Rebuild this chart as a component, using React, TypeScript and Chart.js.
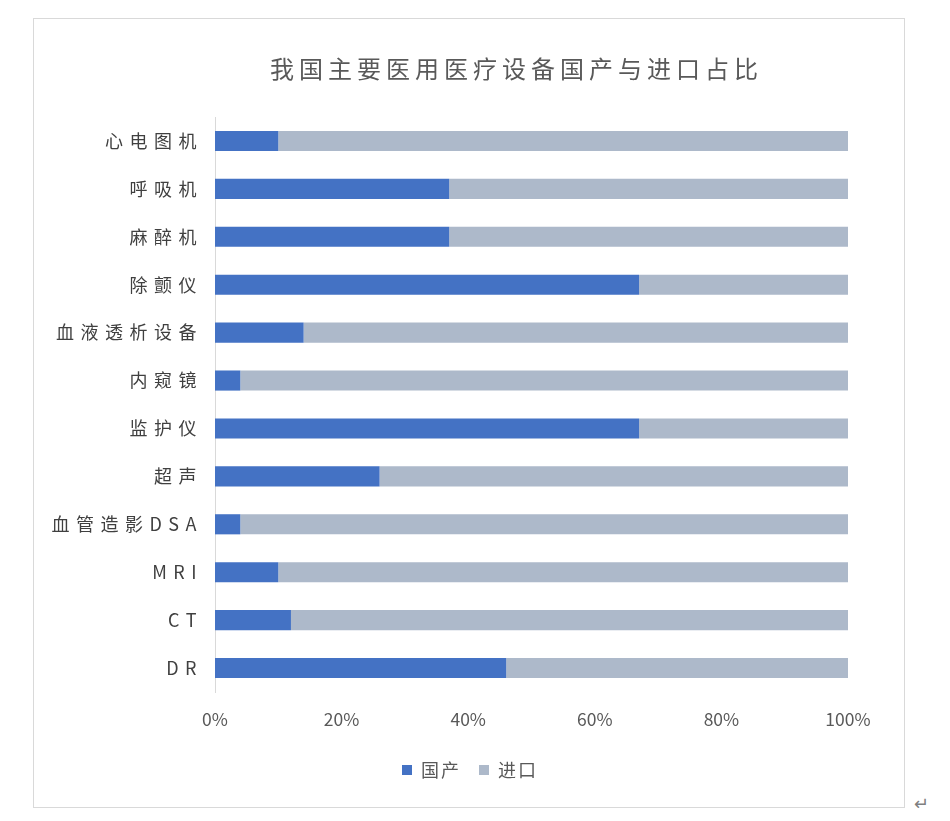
import { useEffect, useRef } from "react";
import Chart, { Plugin } from "chart.js/auto";

const categories = [
  "心电图机",
  "呼吸机",
  "麻醉机",
  "除颤仪",
  "血液透析设备",
  "内窥镜",
  "监护仪",
  "超声",
  "血管造影DSA",
  "MRI",
  "CT",
  "DR",
];
const domestic = [10, 37, 37, 67, 14, 4, 67, 26, 4, 10, 12, 46];
const imported = [90, 63, 63, 33, 86, 96, 33, 74, 96, 90, 88, 54];
const xTicks = [0, 20, 40, 60, 80, 100];

const FONT = '"Noto Sans CJK SC", "Noto Sans", sans-serif';

// the reference uses a wide-set font; emulate with canvas letter spacing
const spacingPlugin: Plugin = {
  id: "spacing",
  beforeLayout(chart) {
    (chart.ctx as any).letterSpacing = "2px";
  },
  afterLayout(chart) {
    const wrap = (scale: any, spacing: string) => {
      if (!scale || scale.__wrapped) return;
      const orig = scale.drawLabels.bind(scale);
      scale.drawLabels = (area: any) => {
        const ctx = chart.ctx as any;
        const prev = ctx.letterSpacing;
        ctx.letterSpacing = spacing;
        orig(area);
        ctx.letterSpacing = prev;
      };
      scale.__wrapped = true;
    };
    wrap(chart.scales.y, "6.5px");
    wrap(chart.scales.x, "0px");
    // legend sits a bit right of the canvas centre in the reference
    if (chart.legend) {
      chart.legend.left += 29;
      chart.legend.right += 29;
    }
  },
  beforeDraw(chart) {
    (chart.ctx as any).letterSpacing = "2px";
  },
};

const App = () => {
  const canvasRef = useRef<HTMLCanvasElement>(null);

  useEffect(() => {
    if (!canvasRef.current) return;
    const chart = new Chart(canvasRef.current, {
      type: "bar",
      data: {
        labels: categories,
        datasets: [
          {
            label: "国产",
            data: domestic,
            backgroundColor: "#4472C4",
            barPercentage: 0.42,
            categoryPercentage: 1,
          },
          {
            label: "进口",
            data: imported,
            backgroundColor: "#ADB9CA",
            barPercentage: 0.42,
            categoryPercentage: 1,
          },
        ],
      },
      options: {
        indexAxis: "y",
        responsive: true,
        maintainAspectRatio: false,
        animation: false,
        layout: { padding: { top: 98, right: 56, bottom: 18, left: 0 } },
        scales: {
          x: {
            stacked: true,
            min: 0,
            max: 100,
            afterBuildTicks: (scale) => {
              scale.ticks = xTicks.map((v) => ({ value: v }));
            },
            afterFit: (scale) => {
              scale.height = 51;
            },
            grid: { display: false, drawTicks: false },
            border: { display: false },
            ticks: {
              padding: 17,
              color: "#595959",
              font: { family: FONT, size: 17.5 },
              callback: (v) => `${v}%`,
            },
          },
          y: {
            stacked: true,
            afterFit: (scale) => {
              scale.width = 181;
            },
            grid: { display: false, drawTicks: false },
            border: { display: true, color: "#D9D9D9", width: 1 },
            ticks: {
              padding: 12,
              color: "#404040",
              font: { family: FONT, size: 18 },
            },
          },
        },
        plugins: {
          legend: {
            position: "bottom",
            labels: {
              boxWidth: 10,
              boxHeight: 10,
              padding: 18,
              color: "#595959",
              font: { family: FONT, size: 18 },
            },
          },
          tooltip: { enabled: false },
        },
      },
      plugins: [spacingPlugin],
    });
    return () => chart.destroy();
  }, []);

  return (
    <div
      style={{
        position: "relative",
        marginLeft: 25,
        marginTop: 10,
        width: 870,
        height: 788,
        border: "1px solid #D9D9D9",
        background: "#fff",
      }}
    >
      <div
        style={{
          position: "absolute",
          top: 34,
          left: 236,
          width: 520,
          whiteSpace: "nowrap",
          fontFamily: FONT,
          fontSize: 24,
          color: "#595959",
          letterSpacing: 5,
          lineHeight: "30px",
        }}
      >
        我国主要医用医疗设备国产与进口占比
      </div>
      <canvas ref={canvasRef} />
      <div
        style={{
          position: "absolute",
          left: 880,
          top: 770,
          fontSize: 18,
          color: "#808080",
          fontFamily: FONT,
        }}
      >
        ↵
      </div>
    </div>
  );
};

export default App;
